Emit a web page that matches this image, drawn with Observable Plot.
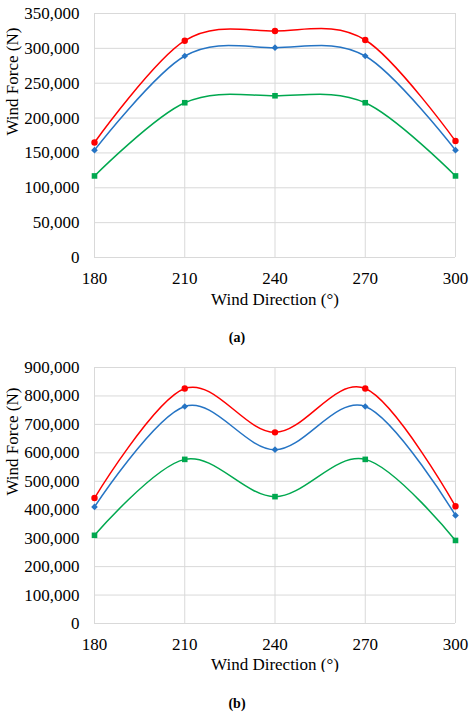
<!DOCTYPE html>
<html>
<head>
<meta charset="utf-8">
<script src="https://cdn.jsdelivr.net/npm/d3@7"></script>
<script src="https://cdn.jsdelivr.net/npm/@observablehq/plot@0.6"></script>
<style>
  html, body { margin: 0; padding: 0; background: #fff; }
  body { width: 474px; font-family: "Liberation Serif", "Times New Roman", serif; }
  .cap { text-align: center; font-weight: bold; font-size: 14px; line-height: 20px; color: #000; }
</style>
</head>
<body>
<div id="panelA"></div>
<div class="cap" style="height:40px; box-sizing:border-box; padding-top:16px;">(a)</div>
<div id="panelB"></div>
<div class="cap" style="height:42px; box-sizing:border-box; padding-top:22px;">(b)</div>
<script>
// Wind direction categories (degrees)
const directions = [180, 210, 240, 270, 300];
const seriesNames = ["Series 1", "Series 2", "Series 3"];
const seriesColors = ["#ff0000", "#2574c4", "#00a84f"];
const seriesSymbols = ["circle", "diamond2", "square"];

// Panel (a) values (N)
const aRed   = [165000, 311000, 325000, 312000, 167000];
const aBlue  = [154000, 289000, 301000, 289000, 154000];
const aGreen = [117000, 222000, 232000, 222000, 117000];

// Panel (b) values (N)
const bRed   = [441000, 826000, 672000, 826000, 412000];
const bBlue  = [410000, 763000, 611000, 763000, 380000];
const bGreen = [310000, 577000, 446000, 577000, 292000];

// Axis tick values
const yTicksA = [0, 50000, 100000, 150000, 200000, 250000, 300000, 350000];
const yTicksB = [0, 100000, 200000, 300000, 400000, 500000, 600000, 700000, 800000, 900000];

const xLabel = "Wind Direction (°)";
const yLabel = "Wind Force (N)";

function toRows(arrays) {
  const rows = [];
  arrays.forEach((vals, s) => {
    vals.forEach((v, i) => rows.push({series: seriesNames[s], dir: directions[i], force: v}));
  });
  return rows;
}

function panel(arrays, yTicks, height, marginTop, marginBottom, labelDy) {
  const rows = toRows(arrays);
  const grid = "#d9d9d9";
  return Plot.plot({
    width: 474,
    height,
    marginLeft: 94,
    marginRight: 19,
    marginTop,
    marginBottom,
    style: {fontFamily: "Liberation Serif, Times New Roman, serif", fontSize: "17px", color: "#000", background: "#fff"},
    x: {domain: [180, 300]},
    y: {domain: [0, yTicks[yTicks.length - 1]]},
    color: {domain: seriesNames, range: seriesColors},
    symbol: {domain: seriesNames, range: seriesSymbols},
    marks: [
      Plot.gridX(directions, {stroke: grid, strokeOpacity: 1, strokeWidth: 1}),
      Plot.gridY(yTicks, {stroke: grid, strokeOpacity: 1, strokeWidth: 1}),
      Plot.axisX(directions, {tickSize: 0, tickPadding: 14, label: null, tickFormat: d => String(d)}),
      Plot.axisY(yTicks, {tickSize: 0, tickPadding: 15, label: null, tickFormat: d3.format(",")}),
      Plot.line(rows, {x: "dir", y: "force", z: "series", stroke: "series", strokeWidth: 1.5, curve: "cardinal", tension: 0}),
      Plot.dot(rows, {x: "dir", y: "force", fill: "series", symbol: "series", stroke: "none",
        r: d => d.series === "Series 2" ? 2.8 : (d.series === "Series 3" ? 3.1 : 3.2)}),
      Plot.text([xLabel], {text: d => d, frameAnchor: "bottom", dy: labelDy, fontSize: 17, fill: "#000"}),
      Plot.text([yLabel], {text: d => d, frameAnchor: "left", dx: -82, rotate: -90, fontSize: 17, fill: "#000"})
    ]
  });
}

document.getElementById("panelA").append(panel([aRed, aBlue, aGreen], yTicksA, 312, 13, 55, 47));
document.getElementById("panelB").append(panel([bRed, bBlue, bGreen], yTicksB, 320, 15, 49, 46));
</script>
</body>
</html>
